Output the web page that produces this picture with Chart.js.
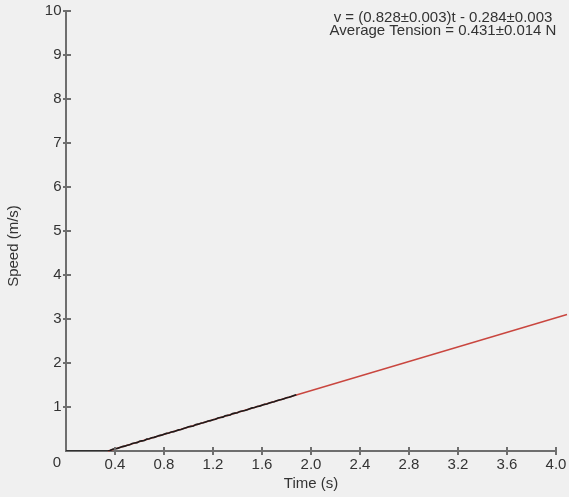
<!DOCTYPE html>
<html>
<head>
<meta charset="utf-8">
<title>Speed vs Time</title>
<script src="https://cdn.jsdelivr.net/npm/chart.js@4.4.1/dist/chart.umd.min.js"></script>
<style>
    html, body { margin: 0; padding: 0; background: #f0f0f0; }
    #wrap { position: relative; width: 569px; height: 497px; }
</style>
</head>
<body>
<div id="wrap"><canvas id="speedChart"></canvas></div>
<script>
// measured cart speed (s, m/s)
const times = [
    0, 0.10, 0.20, 0.30, 0.34,
    0.36, 0.38, 0.40, 0.42, 0.44, 0.46, 0.48, 0.50, 0.52, 0.54,
    0.56, 0.58, 0.60, 0.62, 0.64, 0.66, 0.68, 0.70, 0.72, 0.74,
    0.76, 0.78, 0.80, 0.82, 0.84, 0.86, 0.88, 0.90, 0.92, 0.94,
    0.96, 0.98, 1.00, 1.02, 1.04, 1.06, 1.08, 1.10, 1.12, 1.14,
    1.16, 1.18, 1.20, 1.22, 1.24, 1.26, 1.28, 1.30, 1.32, 1.34,
    1.36, 1.38, 1.40, 1.42, 1.44, 1.46, 1.48, 1.50, 1.52, 1.54,
    1.56, 1.58, 1.60, 1.62, 1.64, 1.66, 1.68, 1.70, 1.72, 1.74,
    1.76, 1.78, 1.80, 1.82, 1.84, 1.86, 1.88
];
const speeds = [
    0, 0, 0, 0, 0,
    0.01, 0.04, 0.05, 0.06, 0.08, 0.10, 0.11, 0.13, 0.14, 0.17,
    0.18, 0.19, 0.22, 0.23, 0.24, 0.27, 0.28, 0.30, 0.31, 0.33,
    0.35, 0.36, 0.38, 0.40, 0.41, 0.43, 0.44, 0.46, 0.48, 0.49,
    0.51, 0.53, 0.55, 0.56, 0.57, 0.60, 0.61, 0.63, 0.64, 0.66,
    0.68, 0.69, 0.71, 0.72, 0.75, 0.76, 0.77, 0.80, 0.81, 0.82,
    0.85, 0.86, 0.87, 0.90, 0.91, 0.92, 0.94, 0.96, 0.98, 0.99,
    1.01, 1.02, 1.04, 1.06, 1.07, 1.09, 1.11, 1.12, 1.14, 1.16,
    1.17, 1.19, 1.21, 1.22, 1.24, 1.26, 1.28
];

// fitted line end points
const fitTimes = [0.343, 4.09];
const fitSpeeds = [0, 3.103];

const xTicks = [0, 0.4, 0.8, 1.2, 1.6, 2.0, 2.4, 2.8, 3.2, 3.6, 4.0];
const yTicks = [0, 1, 2, 3, 4, 5, 6, 7, 8, 9, 10];

const fitLines = [
    'v = (0.828±0.003)t - 0.284±0.003',
    'Average Tension = 0.431±0.014 N'
];

const FONT = "'Liberation Sans', Arial, sans-serif";
const TEXT = '#333';
const AXIS = '#6e6e6e';

// crossing tick marks, the lone "0", y title and the fit text
const decorPlugin = {
    id: 'decor',
    afterDraw(chart) {
        const ctx = chart.ctx;
        const xs = chart.scales.x, ys = chart.scales.y;
        const x0 = xs.getPixelForValue(0);
        const y0 = ys.getPixelForValue(0);
        ctx.save();
        ctx.strokeStyle = AXIS;
        ctx.lineWidth = 2;
        ctx.beginPath();
        xTicks.forEach(v => {
            if (v === 0) return;
            const px = Math.round(xs.getPixelForValue(v));
            ctx.moveTo(px, y0 - 4);
            ctx.lineTo(px, y0 + 4);
        });
        yTicks.forEach(v => {
            if (v === 0) return;
            const py = Math.round(ys.getPixelForValue(v));
            ctx.moveTo(x0 - 3, py);
            ctx.lineTo(x0 + 5, py);
        });
        ctx.stroke();

        ctx.fillStyle = TEXT;
        ctx.font = '15px ' + FONT;
        ctx.textAlign = 'center';
        ctx.textBaseline = 'middle';
        ctx.fillText('0', x0 - 9, y0 + 12);

        fitLines.forEach((line, i) => {
            ctx.fillText(line, 443, 18 + i * 13);
        });

        ctx.translate(14, 246);
        ctx.rotate(-Math.PI / 2);
        ctx.fillText('Speed (m/s)', 0, 0);
        ctx.restore();
    }
};

new Chart(document.getElementById('speedChart'), {
    type: 'scatter',
    data: {
        datasets: [{
            label: 'data',
            data: times.map((t, i) => ({ x: t, y: speeds[i] })),
            showLine: true,
            borderColor: '#1c1c1c',
            borderWidth: 1.6,
            pointRadius: 0
        }, {
            label: 'fit',
            data: fitTimes.map((t, i) => ({ x: t, y: fitSpeeds[i] })),
            showLine: true,
            borderColor: '#c9463f',
            borderWidth: 1.4,
            pointRadius: 0,
            clip: false
        }]
    },
    options: {
        responsive: true,
        maintainAspectRatio: false,
        animation: false,
        layout: { padding: { left: 0, right: 13, top: 11, bottom: 0 } },
        plugins: {
            legend: { display: false },
            tooltip: { enabled: false }
        },
        scales: {
            x: {
                type: 'linear',
                min: 0,
                max: 4,
                afterFit: s => {
                    s.height = 46;
                    s.paddingLeft = 0;
                    s.paddingRight = 0;
                },
                afterBuildTicks: s => { s.ticks = xTicks.map(v => ({ value: v })); },
                grid: { display: false, drawTicks: false },
                border: { display: true, color: AXIS, width: 2 },
                ticks: {
                    padding: 5,
                    color: TEXT,
                    font: { family: FONT, size: 15 },
                    maxRotation: 0,
                    autoSkip: false,
                    callback: v => v === 0 ? '' : v.toFixed(1)
                },
                title: {
                    display: true,
                    text: 'Time (s)',
                    color: TEXT,
                    font: { family: FONT, size: 15 },
                    padding: { top: 0, bottom: 4 }
                }
            },
            y: {
                type: 'linear',
                min: 0,
                max: 10,
                afterFit: s => {
                    s.width = 66;
                    s.paddingTop = 0;
                    s.paddingBottom = 0;
                },
                afterBuildTicks: s => { s.ticks = yTicks.map(v => ({ value: v })); },
                grid: { display: false, drawTicks: false },
                border: { display: true, color: AXIS, width: 2 },
                ticks: {
                    padding: 4.5,
                    color: TEXT,
                    font: { family: FONT, size: 15 },
                    autoSkip: false,
                    callback: v => v === 0 ? '' : String(v)
                },
                title: { display: false }
            }
        }
    },
    plugins: [decorPlugin]
});
</script>
</body>
</html>
